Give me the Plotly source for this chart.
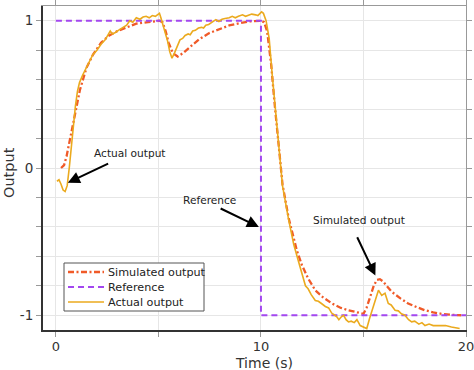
import plotly.graph_objects as go

# ---------------- data ----------------
sim_t = [0.25, 0.40, 0.52, 0.68, 0.92, 1.17, 1.49, 1.81, 2.2, 2.6, 3.0, 3.5, 3.92, 4.5, 5.05,
         5.2, 5.35, 5.5, 5.7, 5.94, 6.2, 6.67, 7.0, 7.48, 8.0, 8.45, 9.0, 9.42, 10.0,
         10.15, 10.3, 10.5, 10.65, 10.85, 11.05, 11.35, 11.75, 12.0, 12.3, 12.65, 13.0,
         13.46, 13.9, 14.27, 14.7, 15.0, 15.15, 15.32, 15.5, 15.65, 15.8, 15.95, 16.37,
         16.8, 17.18, 17.6, 18.0, 18.4, 18.8, 19.3, 19.77]
sim_v = [0.00, 0.02, 0.08, 0.19, 0.35, 0.53, 0.68, 0.77, 0.85, 0.90, 0.93, 0.96, 0.98, 0.99, 1.0,
         0.99, 0.93, 0.85, 0.78, 0.757, 0.78, 0.837, 0.875, 0.916, 0.945, 0.968, 0.985, 0.995, 1.0,
         0.99, 0.93, 0.70, 0.46, 0.17, -0.11, -0.34, -0.56, -0.66, -0.75, -0.83, -0.875,
         -0.92, -0.95, -0.966, -0.98, -0.99, -0.95, -0.875, -0.80, -0.76, -0.755, -0.77, -0.84,
         -0.885, -0.92, -0.945, -0.966, -0.98, -0.99, -0.997, -1.0]

ref_t = [0, 10, 10, 20]
ref_v = [1, 1, -1, -1]

act_t = [0.05, 0.15, 0.25, 0.35, 0.45, 0.55, 0.65, 0.75, 0.85, 0.95, 1.05, 1.15, 1.3, 1.45,
         1.6, 1.8, 2.0, 2.2, 2.4, 2.55, 2.65, 2.75, 2.9, 3.1, 3.3, 3.45, 3.6, 3.75, 3.92,
         4.1, 4.25, 4.4, 4.55, 4.7, 4.85, 4.97, 5.05, 5.12, 5.25, 5.35, 5.45, 5.55, 5.66,
         5.78, 5.94, 6.05, 6.18, 6.3, 6.45, 6.55, 6.67, 6.8, 6.95, 7.1, 7.2, 7.31, 7.45,
         7.6, 7.8, 7.95, 8.1, 8.25, 8.45, 8.6, 8.75, 8.9, 9.1, 9.25, 9.4, 9.55, 9.74, 9.85,
         10.03, 10.12, 10.25, 10.4, 10.55, 10.7, 10.9, 11.05, 11.35, 11.6, 11.8, 12.0, 12.17,
         12.3, 12.45, 12.65, 12.8, 12.95, 13.14, 13.3, 13.45, 13.6, 13.7, 13.8, 13.92, 14.03,
         14.15, 14.27, 14.4, 14.55, 14.68, 14.84, 15.0, 15.16, 15.3, 15.49, 15.62, 15.73,
         15.82, 15.89, 16.05, 16.15, 16.21, 16.35, 16.54, 16.7, 16.85, 17.02, 17.2, 17.35,
         17.5, 17.7, 17.85, 18.0, 18.2, 18.4, 18.64, 18.8, 19.0, 19.29, 19.5, 19.69]
act_v = [-0.09, -0.08, -0.11, -0.15, -0.16, -0.12, 0.00, 0.15, 0.30, 0.42, 0.52, 0.58, 0.63, 0.67,
         0.72, 0.77, 0.80, 0.84, 0.87, 0.91, 0.93, 0.91, 0.92, 0.94, 0.96, 0.97, 1.0, 0.99, 1.02,
         1.01, 1.025, 1.03, 1.02, 1.035, 1.03, 1.045, 1.05, 1.02, 0.96, 0.90, 0.86, 0.79, 0.746,
         0.78, 0.84, 0.87, 0.88, 0.90, 0.91, 0.905, 0.93, 0.935, 0.95, 0.955, 0.95, 0.97, 0.975,
         0.99, 1.007, 0.995, 1.01, 1.015, 1.02, 1.03, 1.02, 1.03, 1.04, 1.03, 1.035, 1.045, 1.04, 1.035,
         1.06, 1.05, 1.0, 0.88, 0.63, 0.40, 0.10, -0.12, -0.35, -0.52, -0.62, -0.72, -0.80,
         -0.82, -0.86, -0.90, -0.905, -0.92, -0.94, -0.95, -0.985, -1.0, -1.01, -1.03, -1.01, -1.0,
         -1.03, -1.045, -1.04, -1.05, -1.03, -1.07, -1.08, -1.09, -1.02, -0.94, -0.87, -0.83,
         -0.85, -0.865, -0.85, -0.89, -0.92, -0.93, -0.966, -0.97, -0.99, -1.0, -1.03, -1.045,
         -1.04, -1.06, -1.05, -1.07, -1.06, -1.07, -1.07, -1.075, -1.07, -1.08, -1.085, -1.09]

x_ticks = [0, 5, 10, 15, 20]
x_labels = ["0", "", "10", "", "20"]
y_ticks = [-1, -0.8, -0.6, -0.4, -0.2, 0, 0.2, 0.4, 0.6, 0.8, 1]
y_labels = ["-1", "", "", "", "", "0", "", "", "", "", "1"]

names = ["Simulated output", "Reference", "Actual output"]
x_title = "Time (s)"
y_title = "Output"

# ---------------- figure ----------------
FONT = "DejaVu Sans"
C_SIM = "#F05A28"
C_REF = "#A347F0"
C_ACT = "#EBAA1E"
STYLES = [
    dict(color=C_SIM, width=2.3, dash="6px,2.5px,2px,2.5px"),
    dict(color=C_REF, width=2, dash="6px,4px"),
    dict(color=C_ACT, width=1.6),
]

fig = go.Figure()
fig.add_trace(go.Scatter(x=sim_t, y=sim_v, mode="lines", name=names[0],
                         line=STYLES[0], showlegend=False))
fig.add_trace(go.Scatter(x=ref_t, y=ref_v, mode="lines", name=names[1],
                         line=STYLES[1], showlegend=False))
fig.add_trace(go.Scatter(x=act_t, y=act_v, mode="lines", name=names[2],
                         line=STYLES[2], showlegend=False))
# empty trace to hold the top/right frame axes
fig.add_trace(go.Scatter(x=[], y=[], xaxis="x2", yaxis="y2", showlegend=False,
                         hoverinfo="skip"))

XR = [-0.63, 20]
YR = [-1.1, 1.1]

axis_common = dict(ticks="outside", ticklen=5, tickwidth=1, tickcolor="#999",
                   zeroline=False, automargin=False)

fig.update_layout(
    width=474, height=370,
    margin=dict(l=43, r=8, t=6, b=40),
    paper_bgcolor="white", plot_bgcolor="white",
    font=dict(family=FONT, color="#333", size=13),
    showlegend=False,
    xaxis=dict(range=XR, tickvals=x_ticks, ticktext=x_labels, showgrid=True,
               gridcolor="#E6E6E6", gridwidth=1, showline=True, linecolor="#333",
               linewidth=2, tickfont=dict(size=13, color="#333"),
               ticklabeloverflow="allow", ticklabelstandoff=-2, **axis_common),
    yaxis=dict(range=YR, tickvals=y_ticks, ticktext=y_labels, showgrid=True,
               gridcolor="#E6E6E6", gridwidth=1, showline=True, linecolor="#333",
               linewidth=2, tickfont=dict(size=13.5, color="#333"),
               ticklabeloverflow="allow", **axis_common),
    xaxis2=dict(range=XR, overlaying="x", side="top", anchor="y2", tickvals=x_ticks,
                showticklabels=False, showgrid=False, showline=True, linecolor="#999",
                linewidth=1, **axis_common),
    yaxis2=dict(range=YR, overlaying="y", side="right", anchor="x2", tickvals=y_ticks,
                showticklabels=False, showgrid=False, showline=True, linecolor="#999",
                linewidth=1, **axis_common),
)

# ---- legend box (drawn in paper coordinates) ----
W, H = 423.0, 324.0
def px(xp):
    return (xp - 43) / W
def py(yp):
    return (330 - yp) / H

fig.add_shape(type="rect", xref="paper", yref="paper", x0=px(64), x1=px(204),
              y0=py(311), y1=py(263), line=dict(color="#555", width=1),
              fillcolor="white", layer="above")
row_y = [272, 287, 302]
for i, nm in enumerate(names):
    fig.add_shape(type="line", xref="paper", yref="paper", x0=px(68), x1=px(104),
                  y0=py(row_y[i]), y1=py(row_y[i]), line=STYLES[i], layer="above")
    fig.add_annotation(x=px(105.5), y=py(row_y[i]), xref="paper", yref="paper", text=nm,
                       showarrow=False, xanchor="left", yanchor="middle",
                       font=dict(family=FONT, size=11.2, color="#222"))

# ---- arrows and callout texts ----
arrows = [
    # tip (x, y), tail (ax, ay)
    dict(x=0.58, y=-0.10, ax=2.62, ay=0.034),
    dict(x=9.9, y=-0.40, ax=7.96, ay=-0.27),
    dict(x=15.58, y=-0.73, ax=14.66, ay=-0.46),
]
for a in arrows:
    fig.add_annotation(x=a["x"], y=a["y"], ax=a["ax"], ay=a["ay"], xref="x", yref="y",
                       axref="x", ayref="y", text="", showarrow=True, arrowhead=2,
                       arrowsize=1.2, arrowwidth=2, arrowcolor="black")

labels = [
    dict(x=3.6, y=0.10, text=names[2]),
    dict(x=7.48, y=-0.22, text=names[1]),
    dict(x=14.8, y=-0.35, text=names[0]),
]
for l in labels:
    fig.add_annotation(x=l["x"], y=l["y"], xref="x", yref="y", text=l["text"],
                       showarrow=False, font=dict(family=FONT, size=10.6, color="#222"))

fig.add_annotation(x=px(264), y=py(363.5), xref="paper", yref="paper", text=x_title,
                   showarrow=False, xanchor="center", yanchor="middle",
                   font=dict(family=FONT, size=14, color="#333"))
fig.add_annotation(x=px(9), y=py(173), xref="paper", yref="paper", text=y_title,
                   showarrow=False, textangle=-90, xanchor="center", yanchor="middle",
                   font=dict(family=FONT, size=14.5, color="#333"))

fig.write_html("out.html", config={"displayModeBar": False},
               post_script="document.body.style.margin='0';")
